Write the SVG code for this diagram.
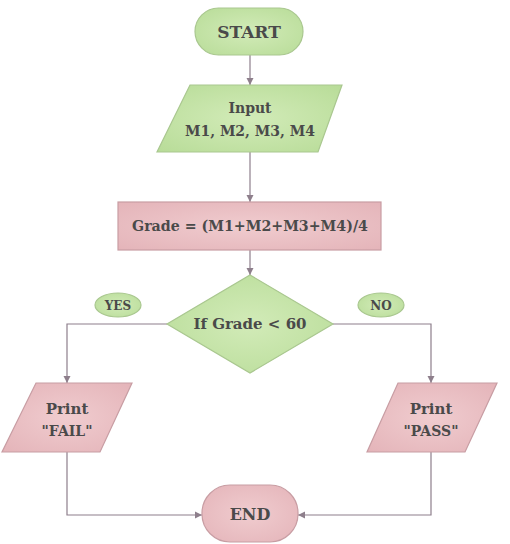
<svg xmlns="http://www.w3.org/2000/svg" width="510" height="544" viewBox="0 0 510 544">
<style>
.g{fill:url(#gg);stroke:#a9c78f;stroke-width:1.2}
.p{fill:url(#pg);stroke:#c89da3;stroke-width:1.2}
.t{font-family:"DejaVu Serif","Liberation Serif",serif;font-weight:bold;fill:#4a4a4a;text-anchor:middle}
.c{fill:none;stroke:#8e7f8c;stroke-width:1.2}
</style>
<defs>
<radialGradient id="gg" cx="0.5" cy="0.5" r="0.7"><stop offset="0" stop-color="#d2ebb8"/><stop offset="1" stop-color="#b8dc98"/></radialGradient>
<radialGradient id="pg" cx="0.5" cy="0.5" r="0.7"><stop offset="0" stop-color="#f0cccf"/><stop offset="1" stop-color="#e4b4b9"/></radialGradient>
<marker id="a" markerWidth="8" markerHeight="8" refX="7" refY="4" orient="auto" markerUnits="userSpaceOnUse"><path d="M0,0.5 L7,4 L0,7.5 z" fill="#8e7f8c"/></marker>
</defs>
<g id="connectors">
<path class="c" d="M250,55 V85" marker-end="url(#a)"/>
<path class="c" d="M250,152 V202" marker-end="url(#a)"/>
<path class="c" d="M250,250 V275" marker-end="url(#a)"/>
<path class="c" d="M167,324 H67 V383" marker-end="url(#a)"/>
<path class="c" d="M333,324 H431 V383" marker-end="url(#a)"/>
<path class="c" d="M67,452 V515 H202" marker-end="url(#a)"/>
<path class="c" d="M431,452 V515 H298" marker-end="url(#a)"/>
</g>
<g id="start"><rect class="g" x="195" y="8" width="108" height="47" rx="23.5"/><text class="t" x="249" y="38" font-size="17">START</text></g>
<g id="input"><polygon class="g" points="190,85 342,85 318,152 157,152"/><text class="t" x="250" y="113" font-size="14">Input</text><text class="t" x="250" y="136" font-size="14">M1, M2, M3, M4</text></g>
<g id="grade"><rect class="p" x="118" y="202" width="263" height="48"/><text class="t" x="250" y="231" font-size="14.2">Grade = (M1+M2+M3+M4)/4</text></g>
<g id="decision"><polygon class="g" points="250,275 333,324 250,373 167,324"/><text class="t" x="250" y="329" font-size="15">If Grade  &lt; 60</text></g>
<g id="yes"><ellipse class="g" cx="118" cy="305" rx="23" ry="12"/><text class="t" x="118" y="309.5" font-size="12">YES</text></g>
<g id="no"><ellipse class="g" cx="381" cy="305" rx="23" ry="12"/><text class="t" x="381" y="309.5" font-size="12">NO</text></g>
<g id="fail"><polygon class="p" points="36,383 132,383 100,452 2,452"/><text class="t" x="67" y="414" font-size="15">Print</text><text class="t" x="67" y="436" font-size="14">"FAIL"</text></g>
<g id="pass"><polygon class="p" points="398,383 497,383 465,452 367,452"/><text class="t" x="431" y="414" font-size="15">Print</text><text class="t" x="431" y="436" font-size="14">"PASS"</text></g>
<g id="end"><rect class="p" x="202" y="485" width="96" height="57" rx="28"/><text class="t" x="250" y="520" font-size="16">END</text></g>
</svg>
